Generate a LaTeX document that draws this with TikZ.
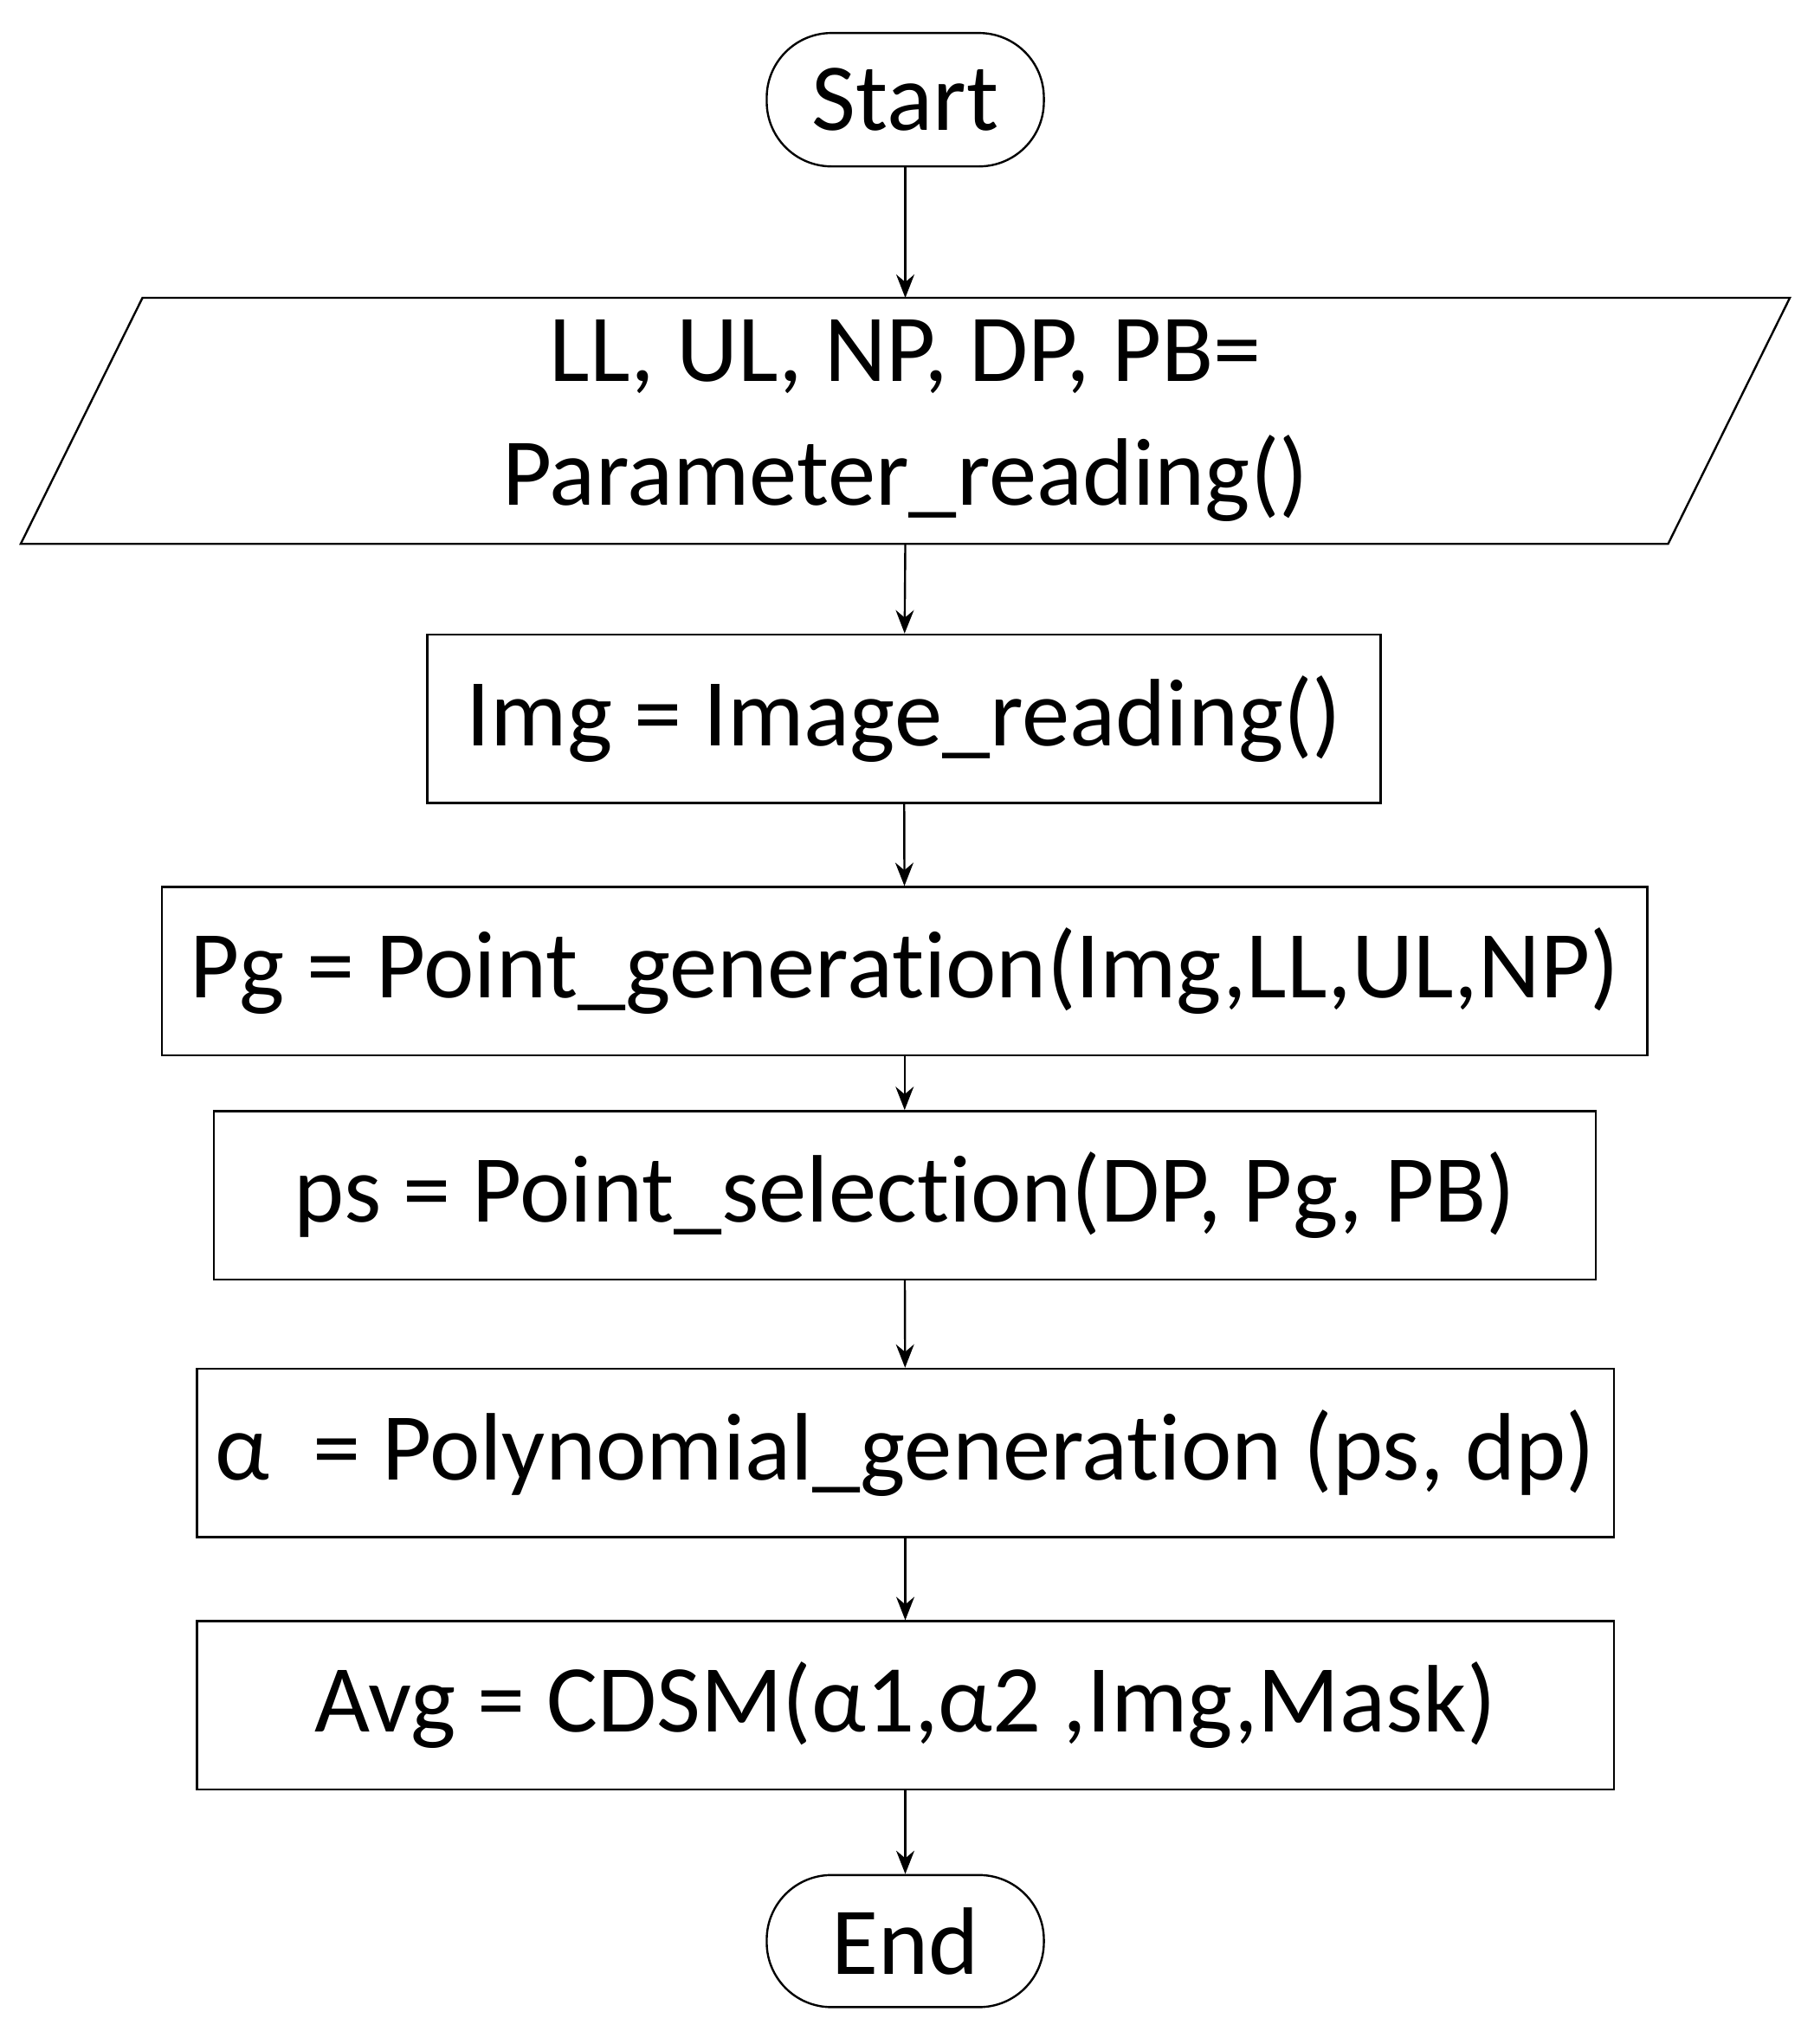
\documentclass[tikz,border=0pt]{standalone}
\usepackage{fontspec}
\setmainfont[Ligatures=NoCommon]{Carlito}
\usetikzlibrary{arrows.meta}
\begin{document}
\begin{tikzpicture}[x=0.5pt,y=-0.5pt,
  box/.style={draw,line width=0.8pt,font=\fontsize{37}{44}\selectfont},
  arr/.style={-{Stealth[length=9pt,width=7pt]},line width=0.8pt}]
\useasboundingbox (0,0) rectangle (1400,1578.5);
\node[box,rounded corners=25pt,minimum width=107pt,minimum height=51.5pt] (start) at (699,77) {Start};
\draw[line width=0.8pt] (110,230) -- (1382,230) -- (1288,420) -- (16,420) -- cycle;
\node[font=\fontsize{37}{44}\selectfont,align=center] (par) at (699,325) {LL, UL, NP, DP, PB=\\[4pt]Parameter\_reading()};
\coordinate (partop) at (699,230);
\coordinate (parbot) at (699,420);
\node[box,minimum width=368pt,minimum height=65pt] (img) at (698,555) {Img = Image\_reading()};
\node[box,minimum width=573.5pt,minimum height=65pt] (pg) at (698.5,750) {Pg = Point\_generation(Img,LL,UL,NP)};
\node[box,minimum width=533.5pt,minimum height=65pt] (ps) at (698.5,923) {ps = Point\_selection(DP, Pg, PB)};
\node[box,minimum width=547pt,minimum height=65pt] (al) at (699,1122) {α\ \ = Polynomial\_generation (ps, dp)};
\node[box,minimum width=547pt,minimum height=65pt] (avg) at (699,1317) {Avg = CDSM(α1,α2 ,Img,Mask)};
\node[box,rounded corners=25pt,minimum width=107pt,minimum height=51pt] (end) at (699,1499) {End};
\draw[arr] (start) -- (partop);
\draw[arr] (parbot) -- (img);
\draw[arr] (img) -- (pg);
\draw[arr] (pg) -- (ps);
\draw[arr] (ps) -- (al);
\draw[arr] (al) -- (avg);
\draw[arr] (avg) -- (end);
\end{tikzpicture}
\end{document}
